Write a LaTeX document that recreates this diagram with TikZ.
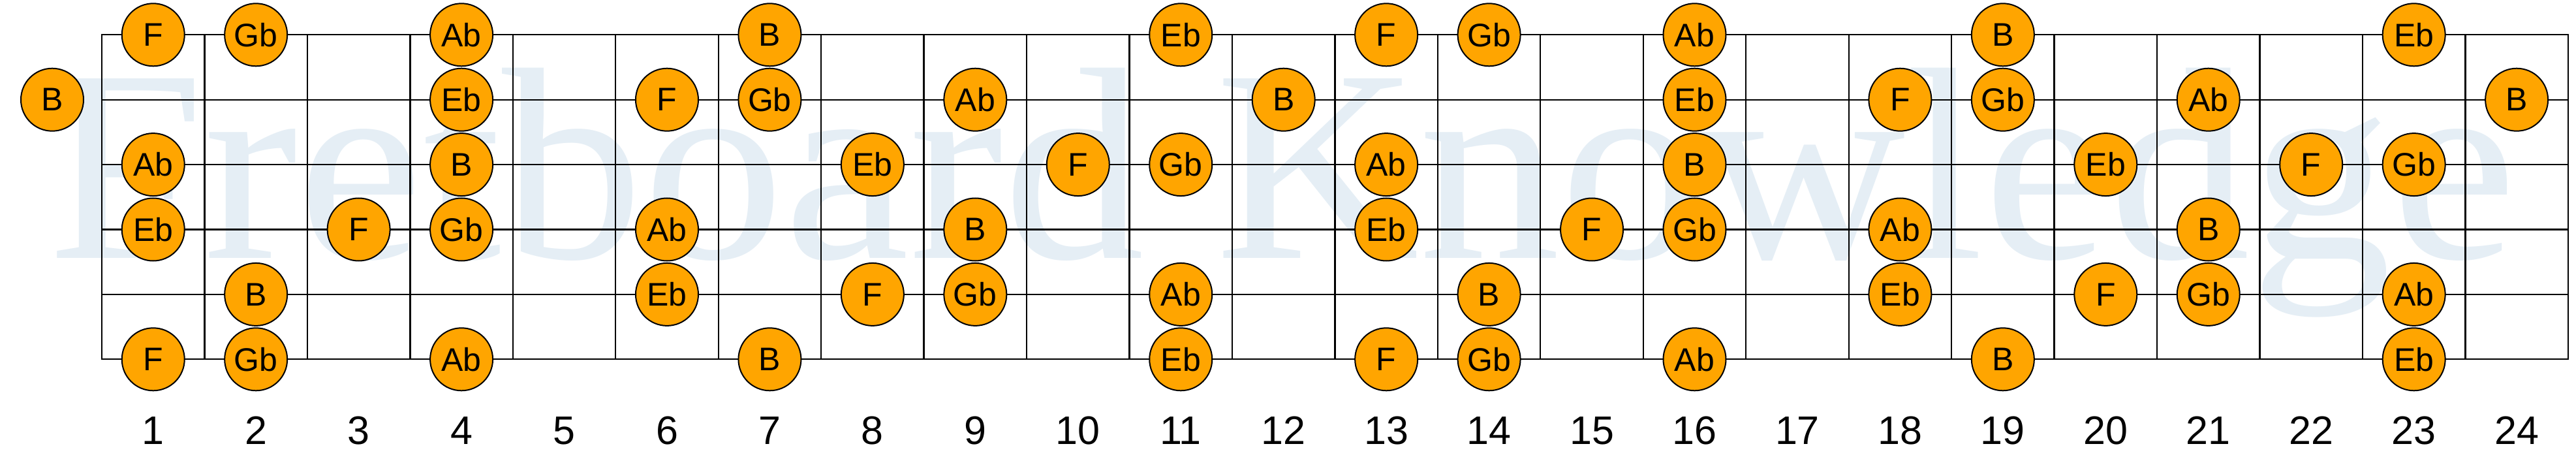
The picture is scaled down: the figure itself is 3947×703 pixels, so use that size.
\documentclass[tikz,border=0pt]{standalone}
\usepackage{fontspec}
\setmainfont{Liberation Sans}
\newfontfamily\wmfont{Liberation Serif}
\definecolor{wmblue}{RGB}{229,238,245}
\definecolor{noteorange}{RGB}{255,165,0}
\begin{document}
\begin{tikzpicture}[x=1pt,y=-1pt,
  gridline/.style={line width=2.3pt, draw=black},
  note/.style={circle, draw=black, line width=2pt, fill=noteorange, minimum size=96pt, inner sep=0pt, font=\fontsize{50}{50}\selectfont},
  fretnum/.style={anchor=base, inner sep=0pt, font=\fontsize{61}{61}\selectfont},
  watermark/.style={anchor=base west, inner sep=0pt, xscale=1.03, text=wmblue, font=\wmfont\fontsize{420}{420}\selectfont}]
\useasboundingbox (0,0) rectangle (3947,703);
% watermark
\node[watermark] (wm) at (72,395) {Fretboard Knowledge};
% strings
\foreach \s in {1,...,6}{
  \pgfmathsetmacro{\yy}{53.3+(\s-1)*99.4}
  \coordinate (sL\s) at (156,\yy);
  \coordinate (sR\s) at (3934.8,\yy);
  \draw[gridline] (sL\s) -- (sR\s);
}
% frets (0 = nut)
\foreach \f in {0,...,24}{
  \pgfmathsetmacro{\xx}{156+\f*157.45}
  \coordinate (fT\f) at (\xx,53.3);
  \coordinate (fB\f) at (\xx,550.3);
  \draw[gridline, line cap=rect] (fT\f) -- (fB\f);
}
% fret numbers
\foreach \f in {1,...,24}{
  \pgfmathsetmacro{\xx}{156+(\f-0.5)*157.45}
  \node[fretnum] (num\f) at (\xx,680) {\f};
}
% notes
\foreach \s/\notes in {
  1/{1/F,2/Gb,4/Ab,7/B,11/Eb,13/F,14/Gb,16/Ab,19/B,23/Eb},
  2/{4/Eb,6/F,7/Gb,9/Ab,12/B,16/Eb,18/F,19/Gb,21/Ab,24/B},
  3/{1/Ab,4/B,8/Eb,10/F,11/Gb,13/Ab,16/B,20/Eb,22/F,23/Gb},
  4/{1/Eb,3/F,4/Gb,6/Ab,9/B,13/Eb,15/F,16/Gb,18/Ab,21/B},
  5/{2/B,6/Eb,8/F,9/Gb,11/Ab,14/B,18/Eb,20/F,21/Gb,23/Ab},
  6/{1/F,2/Gb,4/Ab,7/B,11/Eb,13/F,14/Gb,16/Ab,19/B,23/Eb}}{
  \foreach \f/\n in \notes {
    \pgfmathsetmacro{\xx}{156+(\f-0.5)*157.45}
    \pgfmathsetmacro{\yy}{53.3+(\s-1)*99.4}
    \node[note] (n\s-\f) at (\xx,\yy) {\n};
  }
}
% open string note
\node[note] (n2-0) at (80,152.7) {B};
\end{tikzpicture}
\end{document}
